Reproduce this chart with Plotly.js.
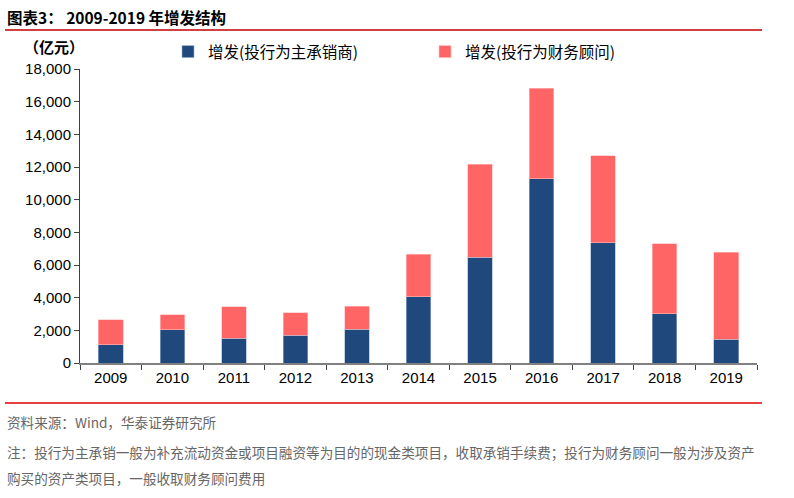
<!DOCTYPE html>
<html>
<head>
<meta charset="utf-8">
<script src="https://cdn.plot.ly/plotly-3.0.1.min.js"></script>
<style>html,body{margin:0;padding:0;background:#fff;}#chart{width:794px;height:498px;}</style>
</head>
<body>
<div id="chart"></div>
<script>
const years = ['2009','2010','2011','2012','2013','2014','2015','2016','2017','2018','2019'];
const underwriter = [1130, 2030, 1520, 1700, 2070, 4070, 6460, 11280, 7360, 3010, 1460];
const advisor = [1520, 920, 1920, 1375, 1390, 2590, 5710, 5550, 5340, 4290, 5330];
const yTicks = [0, 2000, 4000, 6000, 8000, 10000, 12000, 14000, 16000, 18000];
const yTickText = ['0', '2,000', '4,000', '6,000', '8,000', '10,000', '12,000', '14,000', '16,000', '18,000'];

const L = 80, R = 37, T = 69, B = 135, W = 794, H = 498;
const pw = W - L - R, ph = H - T - B;
const px = x => (x - L) / pw;
const py = y => (H - B - y) / ph;

const cjk = '"Noto Sans CJK SC", "Noto Sans", sans-serif';
const sans = '"Liberation Sans", Arial, sans-serif';

const traces = [
  {type: 'bar', name: '增发(投行为主承销商)', x: years, y: underwriter,
   marker: {color: '#1F497D', line: {color: '#9DB3D0', width: 0.6}}},
  {type: 'bar', name: '增发(投行为财务顾问)', x: years, y: advisor,
   marker: {color: '#FF6565', line: {color: '#FFC0C0', width: 0.6}}}
];

const layout = {
  width: W, height: H,
  margin: {l: L, r: R, t: T, b: B},
  paper_bgcolor: '#fff', plot_bgcolor: '#fff',
  barmode: 'stack', bargap: 0.6,
  showlegend: true,
  legend: {orientation: 'h', x: px(168), y: py(52), xanchor: 'left', yanchor: 'middle',
           font: {family: cjk, size: 15.5, color: '#000'}, entrywidth: 212, entrywidthmode: 'pixels',
           itemwidth: 30, traceorder: 'normal', bgcolor: 'rgba(0,0,0,0)'},
  xaxis: {type: 'category', showgrid: false, showline: true, linecolor: '#808080', linewidth: 1.5,
          ticks: 'outside', tickson: 'boundaries', ticklen: 5, tickcolor: '#404040',
          tickfont: {family: sans, size: 15, color: '#000'}, zeroline: false, fixedrange: true},
  yaxis: {range: [0, 18000], tickvals: yTicks, ticktext: yTickText, showgrid: false,
          showline: true, linecolor: '#404040', linewidth: 1, ticks: 'outside', ticklen: 5,
          tickcolor: '#404040', tickfont: {family: sans, size: 15, color: '#000'},
          zeroline: false, fixedrange: true},
  shapes: [
    {type: 'line', xref: 'paper', yref: 'paper', x0: px(5), x1: px(762), y0: py(30), y1: py(30),
     line: {color: '#C00000', width: 1.5}},
    {type: 'line', xref: 'paper', yref: 'paper', x0: px(5), x1: px(762), y0: py(403), y1: py(403),
     line: {color: '#E00000', width: 1.5}}
  ],
  annotations: [
    {xref: 'paper', yref: 'paper', x: px(5), y: py(17), xanchor: 'left', yanchor: 'middle', showarrow: false,
     text: '<b>图表3： 2009-2019 年增发结构</b>', font: {family: cjk, size: 15.5, color: '#000'}},
    {xref: 'paper', yref: 'paper', x: px(22), y: py(47), xanchor: 'left', yanchor: 'middle', showarrow: false,
     text: '<b>（亿元）</b>', font: {family: cjk, size: 15, color: '#000'}},
    {xref: 'paper', yref: 'paper', x: px(5), y: py(422), xanchor: 'left', yanchor: 'middle', showarrow: false,
     text: '资料来源：Wind，华泰证券研究所', font: {family: cjk, size: 13.6, color: '#666'}},
    {xref: 'paper', yref: 'paper', x: px(5), y: py(452), xanchor: 'left', yanchor: 'middle', showarrow: false,
     text: '注：投行为主承销一般为补充流动资金或项目融资等为目的的现金类项目，收取承销手续费；投行为财务顾问一般为涉及资产',
     font: {family: cjk, size: 13.6, color: '#666'}},
    {xref: 'paper', yref: 'paper', x: px(5), y: py(478), xanchor: 'left', yanchor: 'middle', showarrow: false,
     text: '购买的资产类项目，一般收取财务顾问费用', font: {family: cjk, size: 13.6, color: '#666'}}
  ]
};

Plotly.newPlot('chart', traces, layout, {displayModeBar: false, staticPlot: true});
</script>
</body>
</html>
